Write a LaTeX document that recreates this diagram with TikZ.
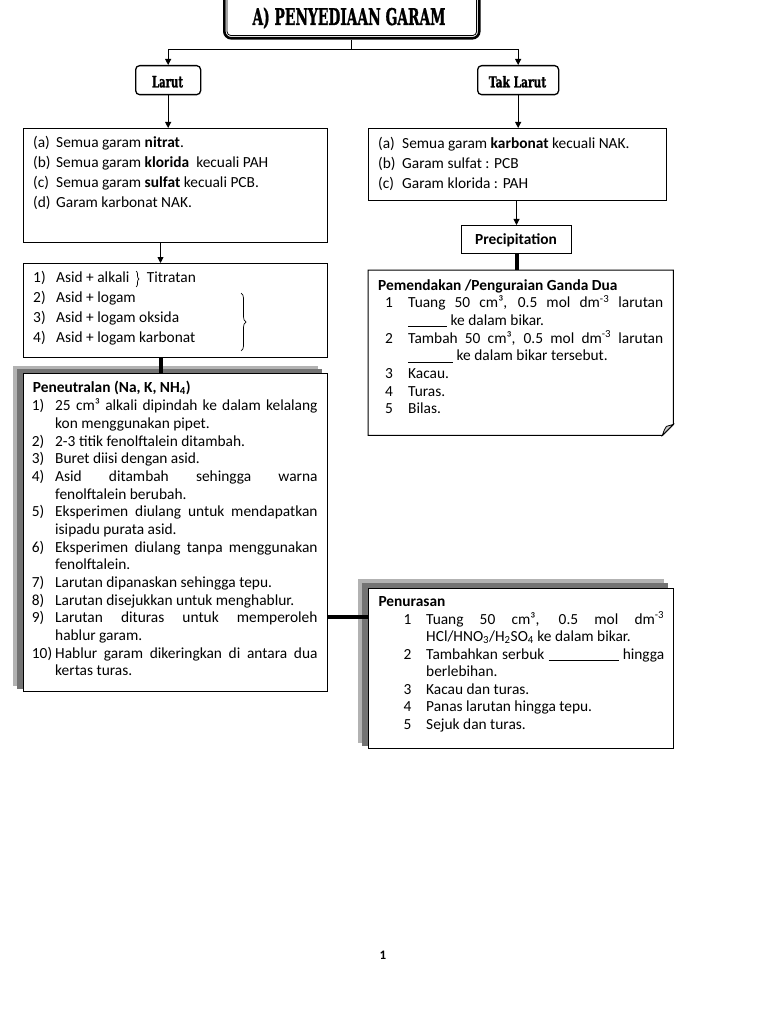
\documentclass[tikz,border=0pt]{standalone}
\usepackage{fontspec}
\setmainfont{Carlito}
\newfontfamily\titlefont[BoldFeatures={FakeBold=1.5}]{DejaVu Serif}
\usetikzlibrary{arrows.meta,decorations.pathreplacing}
\pgfdeclarelayer{bg}
\pgfsetlayers{bg,main}
\newdimen\numw
\newcommand\Ln[2]{\hbox to\hsize{\hbox to\numw{#1\hss}#2\hss}}
\newcommand\Lj[2]{\hbox to\hsize{\hbox to\numw{#1\hss}#2}}
\newcommand\blk[4]{\vtop{\hsize=#1\relax\numw=#3\relax\baselineskip=#2\relax\lineskiplimit=-30pt\relax\parindent=0pt #4}}
\newcommand\blank[1]{\rule[-1.5pt]{#1}{0.6pt}}
\tikzset{
  box/.style={draw, line width=1pt, fill=white, inner sep=0pt, anchor=north west},
  rbox/.style={draw, line width=1.3pt, rounded corners=4pt, fill=white, inner sep=0pt, anchor=north west},
  txt/.style={anchor=base west, inner sep=0pt, font=\fontsize{15.4}{17.7}\selectfont},
  bt/.style={txt, font=\fontsize{15.4}{17.7}\selectfont\bfseries},
  arr/.style={line width=0.9pt, -{Triangle[length=6pt,width=6pt]}},
  thk/.style={line width=4pt},
  shlight/.style={fill=black!30},
  shdark/.style={fill=black!55},
}
\begin{document}
\begin{tikzpicture}[x=1pt,y=-1pt]
\useasboundingbox (0,0) rectangle (768,1024);
\begin{pgfonlayer}{bg}
\fill[white] (0,0) rectangle (768,1024);
\end{pgfonlayer}

% title
\node[draw, line width=2.6pt, rounded corners=7pt, minimum width=255pt, minimum height=47pt, anchor=north west, inner sep=0pt] (title) at (223,-10) {};
\draw[line width=0.8pt, rounded corners=4pt] ([shift={(4,4)}]title.north west) rectangle ([shift={(-4,-4)}]title.south east);
\node[anchor=base, inner sep=0pt] (titleT) at (349,25) {\resizebox{193pt}{17.5pt}{\titlefont\bfseries A) PENYEDIAAN GARAM}};

% larut / tak larut
\node[rbox, minimum width=65pt, minimum height=29pt] (larut) at (135,65) {};
\node[anchor=base, inner sep=0pt] (larutT) at (167.5,87.3) {\resizebox{31pt}{11.3pt}{\titlefont\bfseries Larut}};
\node[rbox, minimum width=81pt, minimum height=29pt] (tak) at (477,65) {};
\node[anchor=base, inner sep=0pt] (takT) at (517.5,87.3) {\resizebox{57.4pt}{11.3pt}{\titlefont\bfseries Tak Larut}};

\draw[arr] (title.south) -- ++(0,10) -| (larut.north);
\draw[arr] (title.south) -- ++(0,10) -| (tak.north);

% box 1
\node[box, minimum width=304pt, minimum height=114pt] (b1) at (23,128) {};
\node[txt] (b1T) at (33,147.3) {\blk{294pt}{20pt}{23pt}{%
\Ln{(a)}{Semua garam \textbf{nitrat}.}
\Ln{(b)}{Semua garam \textbf{klorida}\ \ kecuali PAH}
\Ln{(c)}{Semua garam \textbf{sulfat} kecuali PCB.}
\Ln{(d)}{Garam karbonat NAK.}}};

% box 2
\node[box, minimum width=298pt, minimum height=72pt] (b2) at (368,128) {};
\node[txt] (b2T) at (378,148.3) {\blk{288pt}{20pt}{24pt}{%
\Ln{(a)}{Semua garam \textbf{karbonat} kecuali NAK.}
\Ln{(b)}{Garam sulfat : PCB}
\Ln{(c)}{Garam klorida : PAH}}};

\draw[arr] (larut.south) -- (larut.south |- b1.north);
\draw[arr] (tak.south) -- (tak.south |- b2.north);

% precipitation
\node[box, minimum width=110pt, minimum height=28pt] (prec) at (461,225) {};
\node[anchor=base, inner sep=0pt, font=\fontsize{15.4}{17.7}\selectfont\bfseries] (precT) at (516,244) {Precipitation};
\draw[arr] (prec.north |- b2.south) -- (prec.north);

% pemendakan
\node[anchor=north west, inner sep=0pt, minimum width=305pt, minimum height=165pt] (pm) at (368,270) {};
\draw[line width=1pt, fill=white] (pm.north west) -- (pm.north east) -- ([yshift=11]pm.south east) -- ([xshift=-11]pm.south east) -- (pm.south west) -- cycle;
\draw[line width=0.8pt, fill=black!20] ([xshift=-11]pm.south east) .. controls ([shift={(-9,-6)}]pm.south east) .. ([shift={(-7,-9)}]pm.south east) -- ([yshift=11]pm.south east) -- cycle;
\draw[thk] (prec.south) -- (prec.south |- pm.north);
\node[bt] (pmH) at (378,290.5) {Pemendakan /Penguraian Ganda Dua};
\node[txt] (pmT) at (385,307.7) {\blk{278pt}{17.7pt}{23pt}{%
\Lj{1}{Tuang 50 cm³, 0.5 mol dm\textsuperscript{-3} larutan}
\Ln{}{\blank{39pt} ke dalam bikar.}
\Lj{2}{Tambah 50 cm³, 0.5 mol dm\textsuperscript{-3} larutan}
\Ln{}{\blank{45pt} ke dalam bikar tersebut.}
\Ln{3}{Kacau.}
\Ln{4}{Turas.}
\Ln{5}{Bilas.}}};

% box 3
\node[box, minimum width=304pt, minimum height=94pt] (b3) at (23,263) {};
\node[txt] (b3T) at (33,282.5) {\blk{294pt}{19.9pt}{23pt}{%
\Ln{1)}{Asid + alkali\hspace{17.5pt}Titratan}
\Ln{2)}{Asid + logam}
\Ln{3)}{Asid + logam oksida}
\Ln{4)}{Asid + logam karbonat}}};
\draw[line width=0.7pt, decorate, decoration={brace, amplitude=3pt}] (136,271) -- (136,287);
\draw[line width=0.7pt, decorate, decoration={brace, amplitude=5pt}] (241,293) -- (241,351);
\draw[arr] ([xshift=-15pt]b1.south) -- ([xshift=-15pt]b1.south |- b3.north);

% peneutralan
\node[box, minimum width=304pt, minimum height=318pt] (pn) at (23,373) {};
\begin{pgfonlayer}{bg}
\fill[shlight] ([shift={(-10,-7)}]pn.north west) rectangle ([shift={(-10,-6)}]pn.south east);
\fill[shdark] ([shift={(-6,-4)}]pn.north west) rectangle ([shift={(-6,-3)}]pn.south east);
\end{pgfonlayer}
\draw[thk] ([xshift=-15pt]b3.south) -- ([xshift=-15pt]b3.south |- pn.north);
\node[bt] (pnH) at (32.7,392.3) {Peneutralan (Na, K, NH\textsubscript{4})};
\node[txt] (pnT) at (31.7,410.7) {\blk{285.6pt}{17.67pt}{23.3pt}{%
\Lj{1)}{25 cm³ alkali dipindah ke dalam kelalang}
\Ln{}{kon menggunakan pipet.}
\Ln{2)}{2-3 titik fenolftalein ditambah.}
\Ln{3)}{Buret diisi dengan asid.}
\Lj{4)}{Asid ditambah sehingga warna}
\Ln{}{fenolftalein berubah.}
\Lj{5)}{Eksperimen diulang untuk mendapatkan}
\Ln{}{isipadu purata asid.}
\Lj{6)}{Eksperimen diulang tanpa menggunakan}
\Ln{}{fenolftalein.}
\Ln{7)}{Larutan dipanaskan sehingga tepu.}
\Ln{8)}{Larutan disejukkan untuk menghablur.}
\Lj{9)}{Larutan dituras untuk memperoleh}
\Ln{}{hablur garam.}
\Lj{10)}{Hablur garam dikeringkan di antara dua}
\Ln{}{kertas turas.}}};

% penurasan
\node[box, minimum width=305pt, minimum height=160pt] (pr) at (368,588) {};
\begin{pgfonlayer}{bg}
\fill[shlight] ([shift={(-10,-9)}]pr.north west) rectangle ([shift={(-10,-6)}]pr.south east);
\fill[shdark] ([shift={(-6,-5)}]pr.north west) rectangle ([shift={(-6,-3)}]pr.south east);
\end{pgfonlayer}
\coordinate (j1) at (327,617);
\draw[thk] (j1) -- (j1 -| pr.west);
\node[bt] (prH) at (378.3,606) {Penurasan};
\node[txt] (prT) at (403.3,624) {\blk{260.7pt}{17.5pt}{22.7pt}{%
\Lj{1}{Tuang 50 cm³, 0.5 mol dm\textsuperscript{-3}}
\Ln{}{HCl/HNO\textsubscript{3}/H\textsubscript{2}SO\textsubscript{4} ke dalam bikar.}
\Lj{2}{Tambahkan serbuk \blank{70pt} hingga}
\Ln{}{berlebihan.}
\Ln{3}{Kacau dan turas.}
\Ln{4}{Panas larutan hingga tepu.}
\Ln{5}{Sejuk dan turas.}}};

% page number
\node[inner sep=0pt, font=\fontsize{13}{15}\selectfont\bfseries] (pg) at (383,955) {1};
\end{tikzpicture}
\end{document}
